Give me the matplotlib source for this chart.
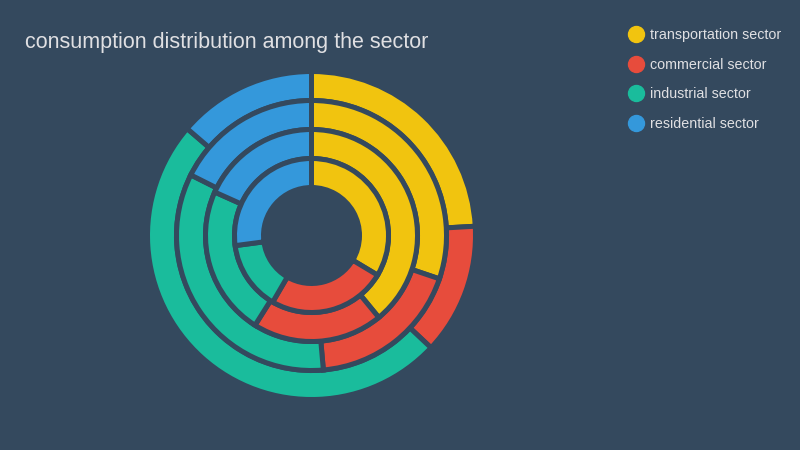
import matplotlib.pyplot as plt
from matplotlib.lines import Line2D

# sector shares per ring (outer -> inner) in percent
sectors = ["transportation sector", "commercial sector", "industrial sector", "residential sector"]
ring1 = [24.1, 12.9, 49.3, 13.7]
ring2 = [30.2, 18.4, 33.8, 17.6]
ring3 = [39.1, 19.9, 22.8, 18.3]
ring4 = [33.6, 24.8, 14.5, 27.1]
rings = [ring1, ring2, ring3, ring4]

colors = ["#f1c40f", "#e74c3c", "#1abc9c", "#3498db"]
bg = "#34495e"
txt = "#e0e0e3"

plt.rcParams['font.family'] = ['Liberation Sans', 'DejaVu Sans']

fig = plt.figure(figsize=(8, 4.5), dpi=100, facecolor=bg)
ax = fig.add_axes([0, 0, 1, 1])
ax.set_facecolor(bg)

cx, cy = 311.5, 450 - 235.5
r_out = 164
step = 29
for i, vals in enumerate(rings):
    ax.pie(vals, colors=colors, radius=r_out - i * step, center=(cx, cy),
           startangle=90, counterclock=False,
           wedgeprops=dict(width=step, edgecolor=bg, linewidth=3.6))

ax.set_xlim(0, 800)
ax.set_ylim(0, 450)
ax.set_aspect('auto')
ax.axis('off')

fig.text(25 / 800, 1 - 42.5 / 450, "consumption distribution among the sector",
         color=txt, fontsize=15.5, va='center', ha='left')

handles = [Line2D([], [], linestyle='none', marker='o', markersize=11.5,
                  markerfacecolor=c, markeredgecolor=c) for c in colors]
leg = ax.legend(handles, sectors, loc='upper left',
                bbox_to_anchor=(629 / 800, 1 - 28 / 450), frameon=False,
                fontsize=10.3, labelcolor=txt, handlelength=1.0,
                handletextpad=0.45, labelspacing=1.1, borderpad=0,
                borderaxespad=0)

fig.savefig("out.png", dpi=100, facecolor=bg)
